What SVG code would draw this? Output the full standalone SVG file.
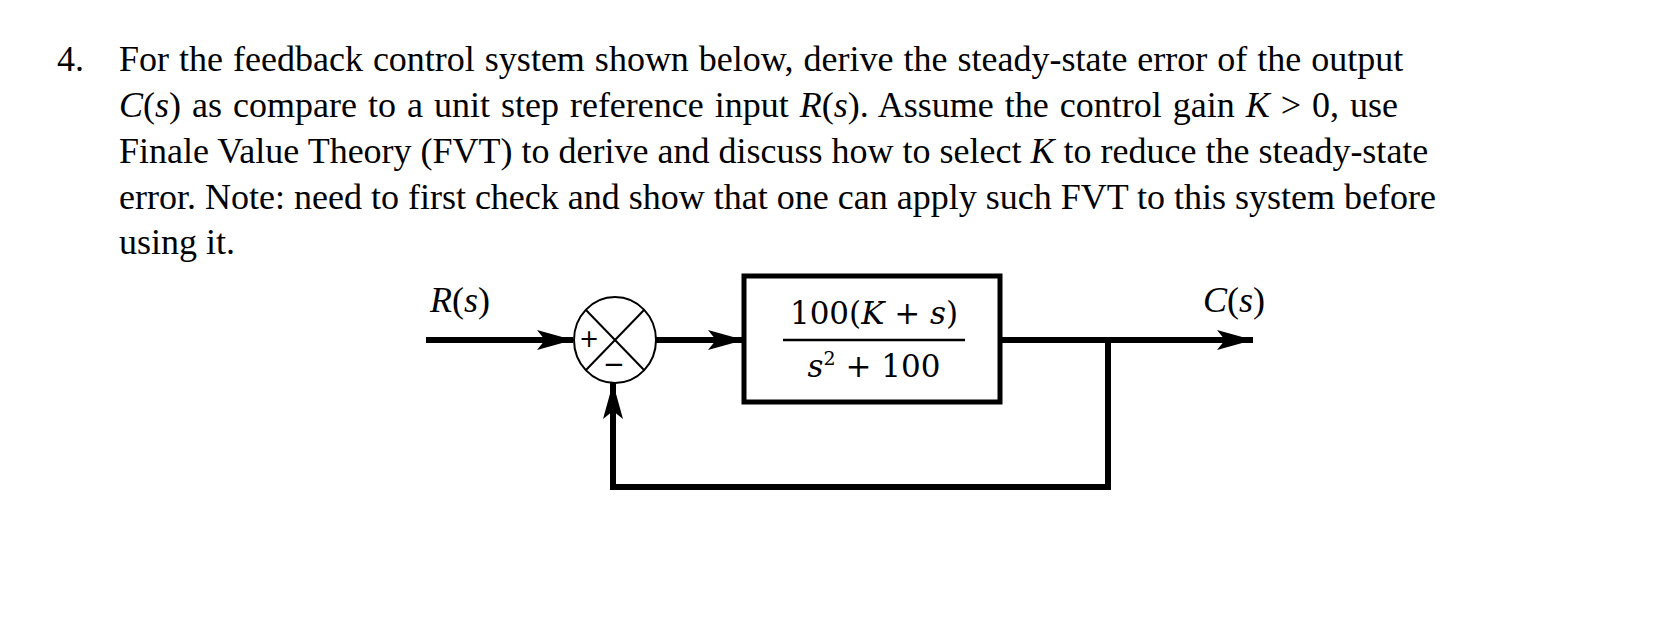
<svg xmlns="http://www.w3.org/2000/svg" width="1654" height="617" viewBox="0 0 1654 617">
<style>
.t{font-family:"Liberation Serif",serif;font-size:36px;fill:#000}
.m{font-family:"DejaVu Serif","Liberation Serif",serif;font-size:31px;fill:#000}
.w{stroke:#000;fill:none;stroke-width:6}
.th{stroke:#000;fill:none;stroke-width:2}
</style>
<defs><marker id="a" viewBox="0 0 36 20" refX="36" refY="10" markerWidth="36" markerHeight="20" markerUnits="userSpaceOnUse" orient="auto"><path d="M0,0 L36,10 L0,20 L8,10z" fill="#000"/></marker></defs>
<rect width="1654" height="617" fill="#fff"/>
<g id="question">
<text class="t" x="57" y="71">4.</text>
<text class="t" x="119" y="71" word-spacing="1">For the feedback control system shown below, derive the steady-state error of the output</text>
<text class="t" x="119" y="117" word-spacing="2"><tspan font-style="italic">C</tspan>(<tspan font-style="italic">s</tspan>) as compare to a unit step reference input <tspan font-style="italic">R</tspan>(<tspan font-style="italic">s</tspan>).  Assume the control gain <tspan font-style="italic">K</tspan> &gt; 0, use</text>
<text class="t" x="119" y="163">Finale Value Theory (FVT) to derive and discuss how to select <tspan font-style="italic">K</tspan> to reduce the steady-state</text>
<text class="t" x="119" y="209">error.  Note: need to first check and show that one can apply such FVT to this system before</text>
<text class="t" x="119" y="254">using it.</text>
</g>
<g id="labels">
<text class="t" x="430" y="312" font-style="italic" font-size="30">R<tspan font-style="normal">(</tspan>s<tspan font-style="normal">)</tspan></text>
<text class="t" x="1203" y="312" font-style="italic" font-size="30">C<tspan font-style="normal">(</tspan>s<tspan font-style="normal">)</tspan></text>
</g>
<g id="sum">
<ellipse cx="615" cy="340" rx="41" ry="43" class="th" stroke-width="3"/>
<line x1="586" y1="310" x2="644" y2="370" class="th"/>
<line x1="644" y1="310" x2="586" y2="370" class="th"/>
<text x="579" y="347" font-family="DejaVu Sans,sans-serif" font-size="24">+</text>
<text x="603" y="373" font-family="DejaVu Sans,sans-serif" font-size="26">−</text>
</g>
<g id="plant">
<rect x="744" y="276" width="256" height="126" fill="#fff" stroke="#000" stroke-width="5"/>
<text class="m" x="874" y="324" text-anchor="middle">100(<tspan font-style="italic">K</tspan> + <tspan font-style="italic">s</tspan>)</text>
<line x1="783" y1="340" x2="965" y2="340" stroke="#000" stroke-width="2.5"/>
<text class="m" x="874" y="377" text-anchor="middle"><tspan font-style="italic">s</tspan><tspan font-size="19" dy="-12">2</tspan><tspan dy="12"> + 100</tspan></text>
</g>
<g id="connectors">
<line x1="426" y1="340" x2="573" y2="340" class="w" marker-end="url(#a)"/>
<line x1="656" y1="340" x2="744" y2="340" class="w" marker-end="url(#a)"/>
<line x1="1000" y1="340" x2="1253" y2="340" class="w" marker-end="url(#a)"/>
<polyline points="1108,340 1108,487 613,487 613,383" class="w" stroke-width="5" marker-end="url(#a)"/>
</g>
</svg>
